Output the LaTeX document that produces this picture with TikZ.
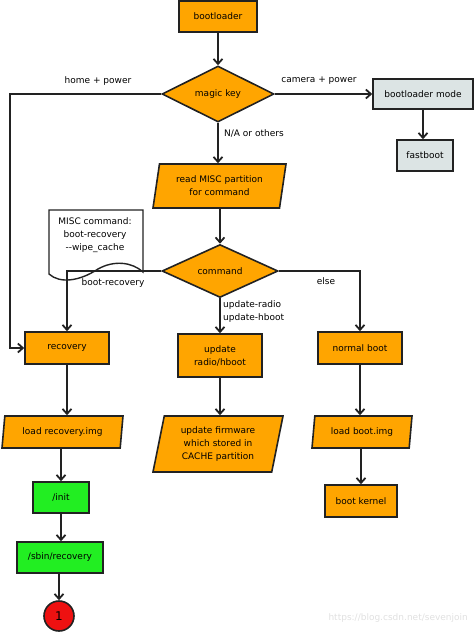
\documentclass[tikz,border=0pt]{standalone}
\usepackage{fontspec}
\setmainfont{DejaVu Sans}
\usetikzlibrary{shapes.geometric,arrows.meta}
\definecolor{orng}{HTML}{FFA500}
\definecolor{bgray}{HTML}{DCE4E4}
\definecolor{grn}{HTML}{22EE22}
\definecolor{rd}{HTML}{EE1111}
\definecolor{bord}{HTML}{222222}
\tikzset{
  txt/.style={font=\fontsize{9}{13}\selectfont, align=center},
  base/.style={txt, draw=bord, line width=1.6pt, inner sep=1pt},
  box/.style={base, rectangle, fill=orng},
  dia/.style={base, diamond, fill=orng, inner sep=0pt},
  para/.style={base, trapezium, fill=orng, trapezium left angle=72, trapezium right angle=108, trapezium stretches body, inner sep=0pt},
  arr/.style={line width=1.8pt, draw=bord, -{Straight Barb[length=5pt,width=9pt]}},
  lbl/.style={txt, inner sep=0pt}
}
\begin{document}
\begin{tikzpicture}[x=1pt,y=-1pt]
\useasboundingbox (0,0) rectangle (474,633);
% note (document shape)
\draw[line width=1.4pt, draw=bord, fill=white] (49,210) -- (143,210) -- (143,272)
  .. controls (132,262) and (114,260) .. (98,269)
  .. controls (80,281) and (60,284) .. (49,274) -- cycle;
\node[lbl] (note) at (95,235) {MISC command:\\boot-recovery\\-{}-wipe\_cache};

\node[box, minimum width=78pt, minimum height=31pt] (boot) at (218,16.5) {bootloader};
\node[dia, minimum width=112pt, minimum height=56pt] (magic) at (218,94) {magic key};
\node[base, fill=bgray, minimum width=100pt, minimum height=30pt] (bmode) at (423,94) {bootloader mode};
\node[base, fill=bgray, minimum width=56pt, minimum height=31pt] (fast) at (425,155.5) {fastboot};
\node[para, minimum width=133pt, minimum height=44pt] (misc) at (219.5,186) {read MISC partition\\for command};
\node[dia, minimum width=116pt, minimum height=53pt] (cmd) at (220,271) {command};
\node[box, minimum width=84pt, minimum height=32pt] (rec) at (67,348) {recovery};
\node[box, minimum width=84pt, minimum height=43pt] (upd) at (220,355.5) {update\\radio/hboot};
\node[box, minimum width=84pt, minimum height=32pt] (normal) at (360,348) {normal boot};
\node[para, minimum width=121pt, minimum height=32pt] (loadrec) at (62.5,432) {load recovery.img};
\node[para, minimum width=130pt, minimum height=56pt] (fw) at (218,444) {update firmware\\which stored in\\CACHE partition};
\node[para, minimum width=100pt, minimum height=32pt] (loadboot) at (362,432) {load boot.img};
\node[base, fill=grn, minimum width=56pt, minimum height=31pt] (init) at (61,497.5) {/init};
\node[base, fill=grn, minimum width=86pt, minimum height=31pt] (sbin) at (60,557.5) {/sbin/recovery};
\node[base, circle, fill=rd, minimum size=30pt, inner sep=0pt, font=\fontsize{12}{14}\selectfont] (one) at (59,616) {1};
\node[box, minimum width=72pt, minimum height=32pt] (kernel) at (361,501) {boot kernel};

\coordinate (hp) at (10,94);
% connectors
\draw[arr] (boot.south) -- (magic.north);
\draw[arr] (magic.west) -- (hp) |- (rec.west);
\draw[arr] (magic.east) -- (bmode.west);
\draw[arr] (bmode.south -| 423,0) -- (fast.north -| 423,0);
\draw[arr] (magic.south) -- (misc.north -| magic.south);
\draw[arr] (misc.south -| cmd.north) -- (cmd.north);
\draw[arr] (cmd.west) -| (rec.north);
\draw[arr] (cmd.east) -| (normal.north);
\draw[arr] (cmd.south) -- (upd.north -| cmd.south);
\draw[arr] (upd.south) -- (fw.north -| upd.south);
\draw[arr] (rec.south) -- (loadrec.north -| rec.south);
\draw[arr] (normal.south) -- (loadboot.north -| normal.south);
\draw[arr] (init.north |- loadrec.south) -- (init.north);
\draw[arr] (init.south) -- (sbin.north -| init.south);
\draw[arr] (one.north |- sbin.south) -- (one.north);
\draw[arr] (kernel.north |- loadboot.south) -- (kernel.north);

% labels
\node[lbl] (lhp) at (98,81) {home + power};
\node[lbl] (lcp) at (319,81) {camera + power};
\node[lbl, anchor=west] (lna) at (224,133) {N/A or others};
\node[lbl] (lbr) at (113,283) {boot-recovery};
\node[lbl] (lelse) at (326,281) {else};
\node[lbl, anchor=north west, align=left] (lur) at (223,300) {update-radio\\update-hboot};
\node[txt, text=black!12, anchor=east, inner sep=0pt] (wm) at (468,618) {https://blog.csdn.net/sevenjoin};
\end{tikzpicture}
\end{document}
